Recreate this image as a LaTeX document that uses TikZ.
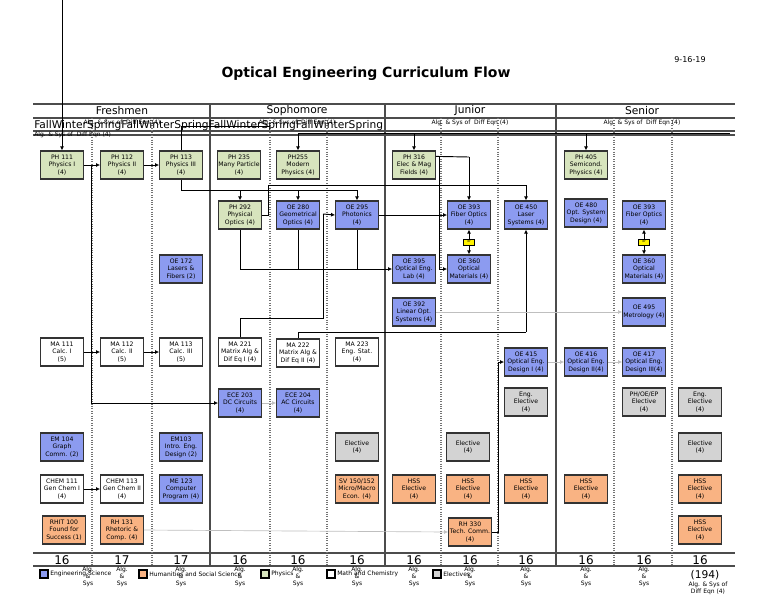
\documentclass[tikz,border=0pt]{standalone}
\usepackage{fontspec}
\setmainfont{DejaVu Sans}
\usetikzlibrary{arrows.meta}
\definecolor{eng}{HTML}{8C9BF0}
\definecolor{hss}{HTML}{F9B383}
\definecolor{phy}{HTML}{D7E4BD}
\definecolor{ele}{HTML}{D3D3D3}
\begin{document}
\begin{tikzpicture}[x=0.75pt,y=-0.75pt,
  bx/.style={draw=black!80,line width=0.9pt,minimum width=32pt,minimum height=21pt,inner sep=0.5pt,align=center,font=\fontsize{4.6}{5.6}\selectfont},
  E/.style={bx,fill=eng},H/.style={bx,fill=hss},P/.style={bx,fill=phy},M/.style={bx,fill=white},G/.style={bx,fill=ele},
  ar/.style={-{Latex[length=3pt,width=3pt]},line width=0.7pt},
  ln/.style={line width=0.7pt},
  fa/.style={-{Latex[length=3pt,width=3pt]},line width=0.5pt,black!25},
  orb/.style={draw,fill=yellow,inner sep=0.5pt,minimum width=8pt,minimum height=4.5pt,font=\fontsize{2.5}{3}\selectfont},
  sm/.style={font=\fontsize{4.5}{5}\selectfont,inner sep=0},
  num/.style={font=\fontsize{9}{10}\selectfont,inner sep=0}]
\useasboundingbox (0,0) rectangle (768,594);
% grid
\draw[line width=1pt,black!70] (33,104)--(735,104) (33,118)--(735,118) (33,131)--(735,131) (33,135)--(735,135);
\draw[line width=1pt,black!70] (33,553)--(735,553) (33,566)--(735,566);
\foreach \x in {210,385,556}{\draw[line width=1pt,black!70] (\x,104)--(\x,566);}
\foreach \x in {92,152,270,327,441,498,614,672}{\draw[line width=0.8pt,black!55,densely dotted] (\x,118)--(\x,566);}
% titles
\node[font=\bfseries\fontsize{10.5}{12}\selectfont] at (366,74) {Optical Engineering Curriculum Flow};
\node[font=\fontsize{6}{7}\selectfont] at (690,60) {9-16-19};
\foreach \x/\t in {122/Freshmen,297/Sophomore,470/Junior,642/Senior}{\node[font=\fontsize{8}{9}\selectfont] at (\x,111) {\t};}
\foreach \x in {122,297,470,642}{\node[sm] at (\x,123) {Alg. \& Sys of\ \ Diff Eqn (4)};}
\node[font=\fontsize{8}{9}\selectfont,anchor=west,inner sep=0] at (34,126) {FallWinterSpringFallWinterSpringFallWinterSpringFallWinterSpring};
\node[sm,anchor=west] at (34,135) {Alg. \& Sys of\ \ Diff Eqn (4)};
% boxes
\node[P] (ph111) at (62,165) {PH 111\\Physics I\\(4)};
\node[P] (ph112) at (122,165) {PH 112\\Physics II\\(4)};
\node[P] (ph113) at (181,165) {PH 113\\Physics III\\(4)};
\node[P] (ph235) at (239,165) {PH 235\\Many Particle\\(4)};
\node[P] (ph255) at (298,165) {PH255\\Modern\\Physics (4)};
\node[P] (ph316) at (414,165) {PH 316\\Elec \& Mag\\Fields (4)};
\node[P] (ph405) at (586,165) {PH 405\\Semicond.\\Physics (4)};
\node[P] (ph292) at (240,215) {PH 292\\Physical\\Optics (4)};
\node[E] (oe280) at (298,215) {OE 280\\Geometrical\\Optics (4)};
\node[E] (oe295) at (357,215) {OE 295\\Photonics\\(4)};
\node[E] (oe393) at (469,215) {OE 393\\Fiber Optics\\(4)};
\node[E] (oe450) at (526,215) {OE 450\\Laser\\Systems (4)};
\node[E] (oe480) at (586,213) {OE 480\\Opt. System\\Design (4)};
\node[E] (oe393b) at (644,215) {OE 393\\Fiber Optics\\(4)};
\node[orb] (or1) at (469,242) {or};
\node[orb] (or2) at (644,242) {or};
\node[E] (oe172) at (181,269) {OE 172\\Lasers \&\\Fibers (2)};
\node[E] (oe395) at (414,269) {OE 395\\Optical Eng.\\Lab (4)};
\node[E] (oe360) at (469,269) {OE 360\\Optical\\Materials (4)};
\node[E] (oe360b) at (644,269) {OE 360\\Optical\\Materials (4)};
\node[E] (oe392) at (414,312) {OE 392\\Linear Opt.\\Systems (4)};
\node[E] (oe495) at (644,312) {OE 495\\Metrology (4)};
\node[M] (ma111) at (62,352) {MA 111\\Calc. I\\(5)};
\node[M] (ma112) at (122,352) {MA 112\\Calc. II\\(5)};
\node[M] (ma113) at (181,352) {MA 113\\Calc. III\\(5)};
\node[M] (ma221) at (240,352) {MA 221\\Matrix Alg \&\\Dif Eq I (4)};
\node[M] (ma222) at (298,353) {MA 222\\Matrix Alg \&\\Dif Eq II (4)};
\node[M] (ma223) at (357,352) {MA 223\\Eng. Stat.\\(4)};
\node[E] (oe415) at (526,362) {OE 415\\Optical Eng.\\Design I (4)};
\node[E] (oe416) at (586,362) {OE 416\\Optical Eng.\\Design II(4)};
\node[E] (oe417) at (644,362) {OE 417\\Optical Eng.\\Design III(4)};
\node[E] (ece203) at (240,403) {ECE 203\\DC Circuits\\(4)};
\node[E] (ece204) at (298,403) {ECE 204\\AC Circuits\\(4)};
\node[G] (eng1) at (526,402) {Eng.\\Elective\\(4)};
\node[G] (pheo) at (644,402) {PH/OE/EP\\Elective\\(4)};
\node[G] (eng2) at (700,402) {Eng.\\Elective\\(4)};
\node[E] (em104) at (62,447) {EM 104\\Graph\\Comm. (2)};
\node[E] (em103) at (181,447) {EM103\\Intro. Eng.\\Design (2)};
\node[G] (el1) at (357,447) {Elective\\(4)};
\node[G] (el2) at (468,447) {Elective\\(4)};
\node[G] (el3) at (700,447) {Elective\\(4)};
\node[M] (ch111) at (62,489) {CHEM 111\\Gen Chem I\\(4)};
\node[M] (ch113) at (122,489) {CHEM 113\\Gen Chem II\\(4)};
\node[E] (me123) at (181,489) {ME 123\\Computer\\Program (4)};
\node[H] (sv) at (357,489) {SV 150/152\\Micro/Macro\\Econ. (4)};
\node[H] (hss1) at (414,489) {HSS\\Elective\\(4)};
\node[H] (hss2) at (468,489) {HSS\\Elective\\(4)};
\node[H] (hss3) at (526,489) {HSS\\Elective\\(4)};
\node[H] (hss4) at (586,489) {HSS\\Elective\\(4)};
\node[H] (hss5) at (700,489) {HSS\\Elective\\(4)};
\node[H] (rhit) at (64,530) {RHIT 100\\Found for\\Success (1)};
\node[H] (rh131) at (122,530) {RH 131\\Rhetoric \&\\Comp. (4)};
\node[H] (rh330) at (470,532) {RH 330\\Tech. Comm.\\(4)};
\node[H] (hss6) at (700,530) {HSS\\Elective\\(4)};
% connectors
\coordinate (top) at (62,0);
\draw[ar] (top)--(ph111);
\draw[ar] (ph111)--(ph112); \draw[ar] (ph112)--(ph113);
\draw[ar] (ma111)--(ma112); \draw[ar] (ma112)--(ma113);
\draw[ar] (ch111)--(ch113);
\draw[ln] (91,165)--(91,403);
\draw[ar] (91,403)--(ece203);
\draw[fa] (ece203)--(ece204);
\draw[ln] (ph113.south)--(181,190)--(357,190);
\draw[ar] (240,190)--(ph292.north);
\draw[ar] (298,190)--(oe280.north);
\draw[ar] (357,190)--(oe295.north);
\draw[ln] (ph113.north)--(181,126)--(270,126);
\draw[ln] (298,133)--(730,133);
\draw[ar] (298,133)--(ph255.north);
\draw[ar] (414,133)--(ph316.north);
\draw[ar] (586,133)--(ph405.north);
\draw[ln] (ph292.east)-|(268,185)--(526,185);
\draw[ar] (526,185)--(oe450.north);
\draw[ar] (oe295.east)--(oe393.west);
\draw[ln] (ph292.south)--(240,269)--(385,269);
\draw[ln] (oe280.south)--(298,269);
\draw[ln] (oe295.south)--(357,269);
\draw[ar] (385,269)--(oe395.west);
\draw[ln] (ma221.north)--(240,318)--(323,318)--(323,214);
\draw[ar] (323,214)--(oe295.west);
\draw[ln] (ma222.north)--(298,332)--(526,332);
\draw[ar] (526,332)--(oe450.south);
\draw[ln] (ph316.north east)++(0,6)--(469,157);
\draw[ar] (469,157)--(oe393.north);
\draw[ln] (439,157)--(439,269);
\draw[ar] (439,269)--(oe360.west);
\draw[ar] (or1)--(oe393); \draw[ar] (or1)--(oe360);
\draw[ar] (or2)--(oe393b); \draw[ar] (or2)--(oe360b);
\draw[fa] (oe392)--(oe495);
\draw[ln] (rh330.east)--(498,532)--(498,362);
\draw[ar] (498,362)--(oe415.west);
\draw[fa] (oe415)--(oe416); \draw[fa] (oe416)--(oe417);
\draw[fa] (rh131.east)--(rh330.west);
% bottom
\foreach \x/\n in {62/16,122/17,181/17,240/16,298/16,357/16,414/16,470/16,526/16,586/16,644/16,700/16}{\node[num] at (\x,560) {\n};}
\foreach \x in {88,122,181,240,298,357,414,470,526,586,644}{\node[sm,align=center,anchor=north] at (\x,567) {Alg.\\\&\\Sys};}
\node[font=\fontsize{8}{9}\selectfont] at (705,575) {(194)};
\node[sm,align=center,anchor=north] at (708,582) {Alg. \& Sys of\\Diff Eqn (4)};
\foreach \x/\c/\t in {44/eng/Engineering Science,143/hss/Humanities and Social Science,265/phy/Physics,331/white/Math and Chemistry,437/ele/Electives}{
 \node[draw,fill=\c,minimum size=6pt,inner sep=0,line width=0.8pt] (lg\x) at (\x,574) {};
 \node[sm,anchor=west] at (\x+6,574) {\t};}
\end{tikzpicture}
\end{document}
